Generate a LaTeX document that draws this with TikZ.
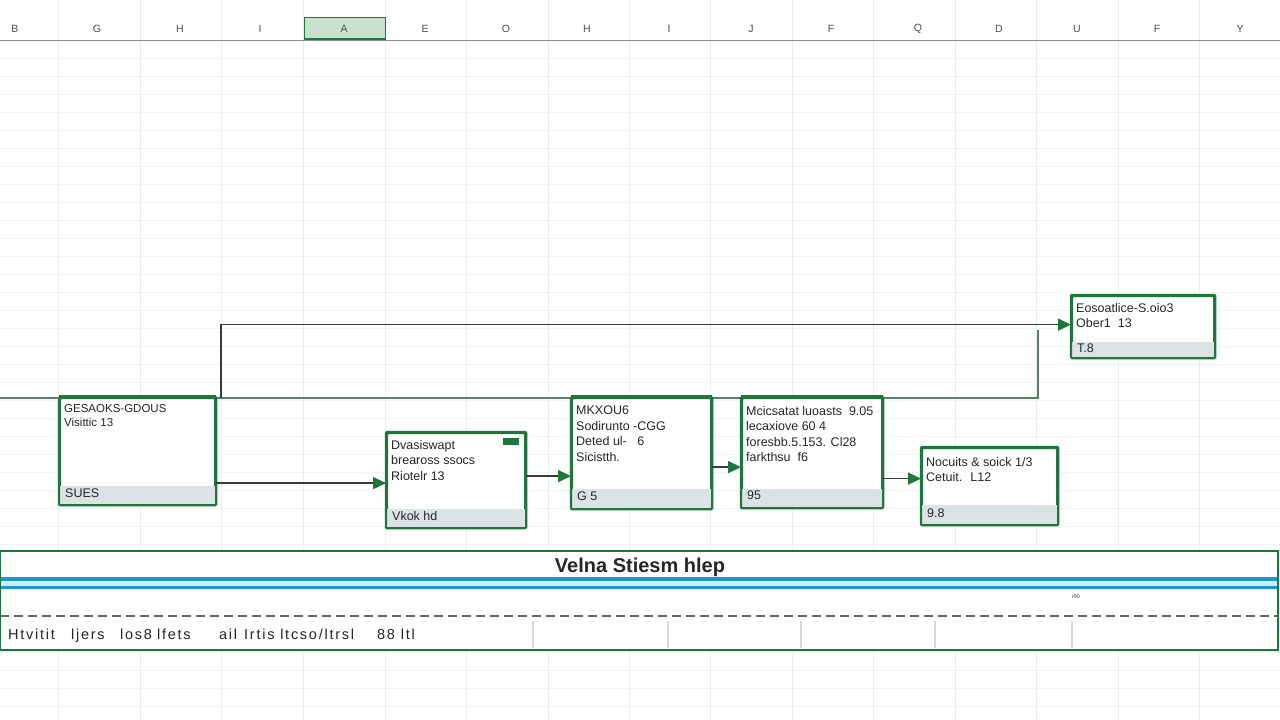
\documentclass[tikz,border=0pt]{standalone}
\usepackage{fontspec}
\setmainfont{Liberation Sans}
\newfontfamily\rowfont[LetterSpace=12]{Liberation Sans}
\usetikzlibrary{arrows.meta,calc}
\definecolor{gr}{RGB}{30,118,58}
\definecolor{stripc}{RGB}{220,227,229}
\definecolor{gridc}{RGB}{236,238,238}
\definecolor{gridh}{RGB}{242,243,243}
\definecolor{bl}{RGB}{28,150,212}
\definecolor{lbl}{RGB}{205,238,250}
\definecolor{linec}{RGB}{55,60,58}
\definecolor{gline}{RGB}{92,128,104}
\definecolor{selc}{RGB}{200,226,206}
\tikzset{
  boxnode/.style={draw=gr, line width=2.2pt, fill=white, rounded corners=1pt, anchor=north west, inner sep=0pt},
  btext/.style={anchor=north west, align=left, inner sep=0pt, font=\fontsize{12.5}{15.5}\selectfont, text=black!85},
  stext/.style={anchor=west, inner sep=0pt, font=\fontsize{12.5}{14}\selectfont, text=black!85},
  conn/.style={draw=linec, line width=1.6pt, -{Triangle[length=13pt,width=12pt,color=gr]}},
  plain/.style={draw=gline, line width=1.6pt},
  topbar/.style={draw=gr, line width=4.5pt},
  hdr/.style={font=\fontsize{10.5}{11}\selectfont, text=black!70, inner sep=0pt},
  rowtext/.style={anchor=base west, inner sep=0pt, font=\rowfont\fontsize{14.5}{16}\selectfont, text=black!85},
}
\begin{document}
\begin{tikzpicture}[x=1pt,y=-1pt]
\useasboundingbox (0,0) rectangle (1280,720);
\fill[white] (0,0) rectangle (1280,720);
% grid
\foreach \y in {58,76,94,112,130,148,166,184,202,220,238,256,274,292,310,328,346,364,382,400,418,436,454,472,490,508,526,544,562,580,598,616,634,652,670,688,706}
  \draw[gridh, line width=1pt] (0,\y) -- (1280,\y);
\foreach \x in {58,140,221,303,385,466,548,629,710,792,873,955,1036,1118,1199}
  \draw[gridc, line width=1pt] (\x,0) -- (\x,720);
% header
\fill[selc] (304,17) rectangle (385,40);
\draw[gr, line width=1pt] (304,17) rectangle (385,40);
\draw[black!45, line width=1pt] (0,40) -- (1280,40);
\draw[gr, line width=2.5pt] (304,39) -- (385,39);
\foreach \x/\l in {15/B,97/G,180/H,260/I,344/A,425/E,506/O,587/H,669/I,751/J,831/F,918/Q,999/D,1077/U,1157/F,1240/Y}
  \node[hdr] (h\x) at (\x,29) {\l};
% connectors under the boxes
\coordinate (L) at (0,398);
\coordinate (J) at (1038,398);
\coordinate (J2) at (1038,330);
\coordinate (T) at (221,398);
\coordinate (B1NE) at (214,398);
\draw[plain] (B1NE) -- (J) -- (J2);
% boxes
\node[boxnode, minimum width=155pt, minimum height=106pt] (b1) at (59,397) {};
\node[boxnode, minimum width=138pt, minimum height=94pt] (b2) at (386,432) {};
\node[boxnode, minimum width=139pt, minimum height=110pt] (b3) at (571,397) {};
\node[boxnode, minimum width=140pt, minimum height=109pt] (b4) at (741,397) {};
\node[boxnode, minimum width=135pt, minimum height=76pt] (b5) at (921,447) {};
\node[boxnode, minimum width=142pt, minimum height=61pt] (b6) at (1071,295) {};
% strips
\foreach \b/\h in {b1/19,b2/19,b3/20,b4/19,b5/20,b6/16}{
  \fill[stripc] ([xshift=1pt,yshift=\h pt]\b.south west) rectangle ([xshift=-1pt,yshift=1pt]\b.south east);
  \draw[gr, line width=2.2pt, rounded corners=1pt] (\b.north west) rectangle (\b.south east);
}
\draw[topbar] (b1.north west) -- (b1.north east);
\draw[topbar] (b3.north west) -- (b3.north east);
\draw[topbar] (b4.north west) -- (b4.north east);
\fill[gr] (503,438) rectangle (519,445);
% box texts
\node[btext, font=\fontsize{11.5}{14.5}\selectfont] (t1) at (64,404) {GESAOKS-GDOUS\\Visittic 13};
\node[stext] (s1) at (65,493) {SUES};
\node[btext] (t2) at (391,440) {Dvasiswapt\\breaross ssocs\\Riotelr 13};
\node[stext] (s2) at (392,516) {Vkok hd};
\node[btext] (t3) at (576,406) {MKXOU6\\Sodirunto -CGG\\Deted ul- \ \ 6\\Sicistth.};
\node[stext] (s3) at (577,496) {G 5};
\node[btext] (t4) at (746,406) {Mcicsatat luoasts \ 9.05\\lecaxiove 60 4\\foresbb.5.153. Cl28\\farkthsu \ f6};
\node[stext] (s4) at (747,495) {95};
\node[btext] (t5) at (926,457) {Nocuits \& soick 1/3\\Cetuit. \ L12};
\node[stext] (s5) at (927,513) {9.8};
\node[btext] (t6) at (1076,303) {Eosoatlice-S.oio3\\Ober1 \ 13};
\node[stext] (s6) at (1077,348) {T.8};
% connectors
\draw[plain] (L) -- (L -| b1.west);
\draw[conn] (T) |- ([yshift=2pt]b6.west);
\draw[conn] ([yshift=-3pt]b1.east |- b2.west) -- ([yshift=-3pt]b2.west);
\draw[conn] ([yshift=4pt]b2.east) -- ([yshift=4pt]b2.east -| b3.west);
\draw[conn] ([yshift=-14pt]b3.east) -- ([yshift=-14pt]b3.east -| b4.west);
\draw[conn] ([yshift=-26pt]b4.east) -- ([yshift=-26pt]b4.east -| b5.west);
% bottom panel
\fill[white] (0,551) rectangle (1278,650);
\fill[lbl] (0,580) rectangle (1278,587);
\draw[bl, line width=4pt] (0,579) -- (1278,579);
\draw[bl, line width=3pt] (0,587) -- (1278,587);
\draw[black!60, dash pattern=on 9pt off 5pt, line width=1.2pt] (0,616) -- (1278,616);
\foreach \x in {533,668,801,935,1072}
  \draw[black!15, line width=2pt] (\x,621) -- (\x,648);
\draw[gr, line width=2.2pt] (0,551) rectangle (1278,650);
\node[font=\fontsize{20}{22}\selectfont\bfseries, text=black!85, inner sep=0pt] (title) at (640,567) {Velna Stiesm hlep};
\node[font=\fontsize{5.5}{6}\selectfont, text=black!70, inner sep=0pt] (tiny) at (1076,597) {r90};
\node[rowtext] (w1) at (8,639) {Htvitit};
\node[rowtext] (w2) at (71,639) {ljers};
\node[rowtext] (w3) at (120,639) {los8};
\node[rowtext] (w4) at (157,639) {lfets};
\node[rowtext] (w5) at (219,639) {ail};
\node[rowtext] (w6) at (244,639) {Irtis ltcso/ltrsl};
\node[rowtext] (w7) at (377,639) {88 ltl};
\end{tikzpicture}
\end{document}
